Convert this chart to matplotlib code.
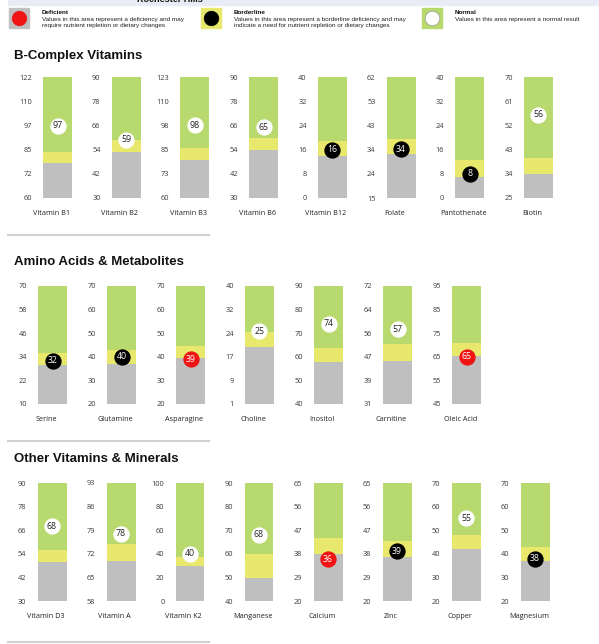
import numpy as np
import matplotlib
matplotlib.use('Agg')
from matplotlib import pyplot as plt
from matplotlib.patches import Rectangle

# B-Complex Vitamins
B_NAMES = ['Vitamin B1', 'Vitamin B2', 'Vitamin B3', 'Vitamin B6',
           'Vitamin B12', 'Folate', 'Pantothenate', 'Biotin']
B_TICKS = [[60, 72, 85, 97, 110, 122], [30, 42, 54, 66, 78, 90],
           [60, 73, 85, 98, 110, 123], [30, 42, 54, 66, 78, 90],
           [0, 8, 16, 24, 32, 40], [15, 24, 34, 43, 53, 62],
           [0, 8, 16, 24, 32, 40], [25, 34, 43, 52, 61, 70]]
B_LOW = [77.7, 52.9, 79.7, 53.8, 13.9, 31.9, 6.9, 34.0]
B_HIGH = [83.7, 58.8, 85.8, 59.9, 18.8, 37.9, 12.7, 39.8]
B_VALUES = [97, 59, 98, 65, 16, 34, 8, 56]

# Amino Acids & Metabolites
A_NAMES = ['Serine', 'Glutamine', 'Asparagine', 'Choline',
           'Inositol', 'Carnitine', 'Oleic Acid']
A_TICKS = [[10, 22, 34, 46, 58, 70], [20, 30, 40, 50, 60, 70],
           [20, 30, 40, 50, 60, 70], [1, 9, 17, 24, 32, 40],
           [40, 50, 60, 70, 80, 90], [31, 39, 47, 56, 64, 72],
           [45, 55, 65, 75, 85, 95]]
A_LOW = [29.8, 36.9, 39.3, 19.9, 57.8, 46.0, 65.3]
A_HIGH = [36.1, 42.9, 44.7, 24.8, 63.7, 51.8, 70.8]
A_VALUES = [32, 40, 39, 25, 74, 57, 65]

# Other Vitamins & Minerals
O_NAMES = ['Vitamin D3', 'Vitamin A', 'Vitamin K2', 'Manganese',
           'Calcium', 'Zinc', 'Copper', 'Magnesium']
O_TICKS = [[30, 42, 54, 66, 78, 90], [58, 65, 72, 79, 86, 93],
           [0, 20, 40, 60, 80, 100], [40, 50, 60, 70, 80, 90],
           [20, 29, 38, 47, 56, 65], [20, 29, 38, 47, 56, 65],
           [20, 30, 40, 50, 60, 70], [20, 30, 40, 50, 60, 70]]
O_LOW = [49.8, 69.9, 29.7, 49.9, 37.9, 36.8, 41.9, 36.8]
O_HIGH = [55.8, 74.9, 37.6, 59.9, 43.9, 43.0, 47.8, 42.9]
O_VALUES = [68, 78, 40, 68, 36, 39, 55, 38]

W, H = 599, 644
GREY = '#bfbfbf'
YELLOW = '#e8e86c'
GREEN = '#b7d96e'
RED = '#f01414'

plt.rcParams['font.family'] = ['Open Sans', 'DejaVu Sans']


def px_rect(x, y_top, w, h):
	"""Pixel box (top-left origin) to figure fraction"""
	return [x / W, 1 - (y_top + h) / H, w / W, h / H]


def draw_panel(fig, rect, name, ticks, low, high, value):
	ax = fig.add_axes(rect)
	lo, hi = ticks[0], ticks[-1]
	ax.bar(0.5, low - lo, bottom=lo, width=1, color=GREY)
	ax.bar(0.5, high - low, bottom=low, width=1, color=YELLOW)
	ax.bar(0.5, hi - high, bottom=high, width=1, color=GREEN)
	ax.set_xlim(0, 1)
	ax.set_ylim(lo, hi)
	ax.set_yticks(np.linspace(lo, hi, len(ticks)))
	ax.set_yticklabels([str(t) for t in ticks], fontsize=5.3, color='#3a3a3a')
	ax.tick_params(axis='y', length=0, pad=8)
	ax.set_xticks([])
	for s in ax.spines.values():
		s.set_visible(False)

	# Marker colour depends on which zone the value falls in
	if value < low:
		fc, ec, tc = RED, RED, 'white'
	elif value < high:
		fc, ec, tc = 'black', 'black', 'white'
	else:
		fc, ec, tc = 'white', 'white', '#222222'
	ax.scatter([0.5], [value], s=115, color=fc, edgecolors=ec, zorder=3, clip_on=False)
	ax.text(0.5, value, str(value), ha='center', va='center', fontsize=6.3,
			color=tc, zorder=4)
	ax.annotate(name, xy=(0.5, 0), xycoords='axes fraction',
				xytext=(-4.5, -11), textcoords='offset points',
				ha='center', va='center', fontsize=5.2, color='#222222')


def draw_section(fig, names, ticks, lows, highs, values, x0, pitch, top, bottom):
	for i in range(len(names)):
		rect = px_rect(x0 + i * pitch, top, 29, bottom - top)
		draw_panel(fig, rect, names[i], ticks[i], lows[i], highs[i], values[i])


if __name__ == '__main__':

	fig = plt.figure(figsize=(W / 100, H / 100), dpi=100)

	# Background layer in pixel coordinates
	bg = fig.add_axes([0, 0, 1, 1])
	bg.set_xlim(0, W)
	bg.set_ylim(H, 0)
	bg.axis('off')

	# Cut-off header banner
	bg.add_patch(Rectangle((8, 0), W - 8, 4.5, color='#e8ecf5'))
	bg.text(170, 2.2, 'Rochester Hills', ha='center', va='baseline',
			fontsize=6.5, fontweight='bold', family='Liberation Sans', color='#111111')

	# Legend
	legend = [(9, GREY, RED, RED, 'Deficient',
			   ['Values in this area represent a deficiency and may',
				'require nutrient repletion or dietary changes']),
			  (201, YELLOW, 'black', 'black', 'Borderline',
			   ['Values in this area represent a borderline deficiency and may',
				'indicate a need for nutrient repletion or dietary changes']),
			  (422, GREEN, 'white', '#999999', 'Normal',
			   ['Values in this area represent a normal result'])]
	for x, sq, fc, ec, title, lines in legend:
		bg.add_patch(Rectangle((x, 8), 20, 20, color=sq))
		bg.scatter([x + 10], [18], s=110, color=fc, edgecolors=ec, linewidths=0.5)
		bg.text(x + 33, 12.5, title, ha='left', va='center', fontsize=4.6,
				fontweight='bold', family='Liberation Sans', color='#111111')
		for j, line in enumerate(lines):
			bg.text(x + 33, 19.5 + j * 6.3, line, ha='left', va='center',
					fontsize=4.55, family='Liberation Sans', color='#222222')

	# Section titles and separators
	titles = [('B-Complex Vitamins', 56), ('Amino Acids & Metabolites', 262),
			  ('Other Vitamins & Minerals', 459)]
	for text, y in titles:
		bg.text(14, y, text, ha='left', va='center', fontsize=9.5,
				fontweight='bold', family='Liberation Sans', color='#111111')
	for y in [235, 440.5, 642]:
		bg.plot([8, 209], [y, y], color='#d0d0d0', linewidth=1.5)

	draw_section(fig, B_NAMES, B_TICKS, B_LOW, B_HIGH, B_VALUES, 43, 68.7, 77, 198)
	draw_section(fig, A_NAMES, A_TICKS, A_LOW, A_HIGH, A_VALUES, 38, 69, 286, 404)
	draw_section(fig, O_NAMES, O_TICKS, O_LOW, O_HIGH, O_VALUES, 37.5, 69, 483, 601)

	fig.savefig('out.png', dpi=100)
